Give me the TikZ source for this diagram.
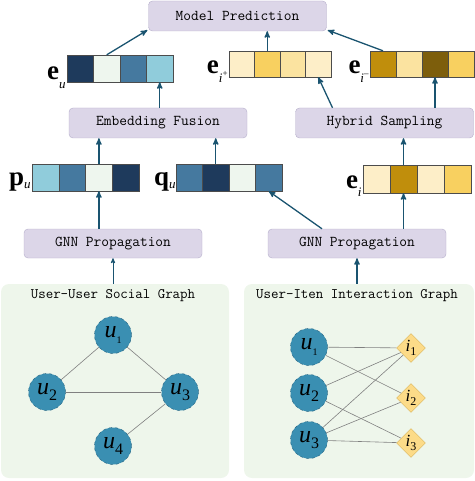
\documentclass[tikz,border=0pt]{standalone}
\usepackage{fontspec}
\setmainfont{Liberation Serif}
\usepackage{tikz}
\usetikzlibrary{arrows,shapes,positioning}

\definecolor{navy}{HTML}{1E3A5C}
\definecolor{paleg}{HTML}{EEF6EE}
\definecolor{steel}{HTML}{45799F}
\definecolor{cyanl}{HTML}{90CCDB}
\definecolor{pale}{HTML}{FDEEC8}
\definecolor{gold}{HTML}{F8D060}
\definecolor{goldm}{HTML}{FBE3A0}
\definecolor{goldd}{HTML}{C08E0C}
\definecolor{brown}{HTML}{7D5E0C}
\definecolor{flowc}{HTML}{1A5470}
\definecolor{boxfill}{HTML}{DCD6E8}
\definecolor{boxline}{HTML}{B5AECB}
\definecolor{panelfill}{HTML}{EEF6EB}
\definecolor{ufill}{HTML}{3A8FB2}
\definecolor{uline}{HTML}{1F5F7D}
\definecolor{ifill}{HTML}{FCDB88}
\definecolor{iline}{HTML}{D9B45A}

\begin{document}
\begin{tikzpicture}[x=1pt,y=-1pt,>=stealth']
  \tikzstyle{block}=[rectangle,rounded corners=4pt,draw=boxline,fill=boxfill,
                     minimum width=178pt,minimum height=30pt,
                     font=\fontsize{15}{17}\selectfont\ttfamily]
  \tikzstyle{cell}=[rectangle,draw=black!70,inner sep=0pt,
                    minimum width=26.5pt,minimum height=27pt]
  \tikzstyle{flow}=[->,draw=flowc,line width=1.3pt]
  \tikzstyle{panel}=[rectangle,rounded corners=8pt,fill=panelfill,draw=none]
  \tikzstyle{title}=[font=\fontsize{14.5}{16}\selectfont\ttfamily]
  \tikzstyle{user}=[circle,draw=uline,dashed,fill=ufill,minimum size=37pt,
                    inner sep=0pt,font=\fontsize{24}{26}\selectfont\itshape]
  \tikzstyle{item}=[diamond,draw=iline,fill=ifill,minimum size=29pt,
                    inner sep=0pt,font=\fontsize{17}{19}\selectfont\itshape]
  \tikzstyle{link}=[draw=black!50,line width=0.6pt]
  \tikzstyle{vlabel}=[inner sep=0pt,font=\fontsize{27}{29}\selectfont\bfseries]

  \useasboundingbox (0,0) rectangle (474,481);

  % boxes
  \node [block] (mp)   at (237.5,16)  {Model Prediction};
  \node [block] (ef)   at (158,123)   {Embedding Fusion};
  \node [block] (hs)   at (384.5,123) {Hybrid Sampling};
  \node [block,minimum height=29pt] (gnnl) at (113,243.5) {GNN Propagation};
  \node [block,minimum height=29pt] (gnnr) at (357,243.5) {GNN Propagation};

  % embedding vectors
  \foreach \c [count=\k] in {navy,paleg,steel,cyanl}
    \node [cell,fill=\c] (eu-\k) at ({80.25+(\k-1)*26.5},68.5) {};
  \foreach \c [count=\k] in {pale,gold,goldm,pale}
    \node [cell,fill=\c,minimum width=25.5pt,minimum height=26pt] (eip-\k) at ({241.75+(\k-1)*25.5},64) {};
  \foreach \c [count=\k] in {goldd,goldm,brown,gold}
    \node [cell,fill=\c,minimum width=26pt,minimum height=26pt] (eim-\k) at ({383+(\k-1)*26},64) {};
  \foreach \c [count=\k] in {cyanl,steel,paleg,navy}
    \node [cell,fill=\c,minimum width=26.75pt] (pu-\k) at ({45.4+(\k-1)*26.75},177.5) {};
  \foreach \c [count=\k] in {steel,navy,paleg,steel}
    \node [cell,fill=\c] (qu-\k) at ({189.25+(\k-1)*26.5},177.5) {};
  \foreach \c [count=\k] in {pale,goldd,pale,gold}
    \node [cell,fill=\c,minimum width=27pt,minimum height=28pt] (ei-\k) at ({376.5+(\k-1)*27},179) {};

  % vector labels
  \node [vlabel,anchor=base east] (eulab) at ([xshift=-1pt,yshift=3pt]eu-1.south west)
    {e\raisebox{-9pt}{\fontsize{13}{14}\selectfont\mdseries\itshape u}};
  \node [vlabel,anchor=base east] (eiplab) at ([xshift=-1pt,yshift=4pt]eip-1.south west)
    {e\raisebox{-9pt}{\fontsize{13}{14}\selectfont\mdseries\itshape i\raisebox{6pt}{\upshape\fontsize{9}{10}\selectfont+}}};
  \node [vlabel,anchor=base east] (eimlab) at ([xshift=-1pt,yshift=4pt]eim-1.south west)
    {e\raisebox{-9pt}{\fontsize{13}{14}\selectfont\mdseries\itshape i\raisebox{6pt}{\upshape\fontsize{9}{10}\selectfont--}}};
  \node [vlabel,anchor=base east] (pulab) at ([xshift=-1pt,yshift=6pt]pu-1.south west)
    {p\raisebox{-3pt}{\fontsize{13}{14}\selectfont\mdseries\itshape u}};
  \node [vlabel,anchor=base east] (qulab) at ([xshift=0pt,yshift=6pt]qu-1.south west)
    {q\raisebox{-3pt}{\fontsize{13}{14}\selectfont\mdseries\itshape u}};
  \node [vlabel,anchor=base east] (eilab) at ([xshift=-1pt,yshift=5pt]ei-1.south west)
    {e\raisebox{-8pt}{\fontsize{13}{14}\selectfont\mdseries\itshape i}};

  % graph panels
  \node [panel,minimum width=228pt,minimum height=194pt] (pl) at (115,381) {};
  \node [panel,minimum width=230pt,minimum height=194pt] (pr) at (359,381) {};
  \node [title] (tl) at (113,296) {User-User Social Graph};
  \node [title] (tr) at (357,296) {User-Iten Interaction Graph};

  % social graph
  \node [user] (su1) at (113,335) {u\raisebox{-6pt}{\fontsize{10}{11}\selectfont\upshape 1}};
  \node [user] (su2) at (47,392)  {u\raisebox{-6pt}{\fontsize{16}{17}\selectfont\upshape 2}};
  \node [user] (su3) at (180,392) {u\raisebox{-6pt}{\fontsize{16}{17}\selectfont\upshape 3}};
  \node [user] (su4) at (113,446) {u\raisebox{-6pt}{\fontsize{16}{17}\selectfont\upshape 4}};
  \draw [link] (su1) -- (su2);
  \draw [link] (su1) -- (su3);
  \draw [link] (su2) -- (su3);
  \draw [link] (su3) -- (su4);

  % interaction graph
  \node [user] (iu1) at (309,347) {u\raisebox{-6pt}{\fontsize{10}{11}\selectfont\upshape 1}};
  \node [user] (iu2) at (309,393) {u\raisebox{-6pt}{\fontsize{16}{17}\selectfont\upshape 2}};
  \node [user] (iu3) at (309,440) {u\raisebox{-6pt}{\fontsize{16}{17}\selectfont\upshape 3}};
  \node [item] (it1) at (411,348) {i\raisebox{-4pt}{\fontsize{12}{13}\selectfont\upshape 1}};
  \node [item] (it2) at (411,398) {i\raisebox{-4pt}{\fontsize{12}{13}\selectfont\upshape 2}};
  \node [item] (it3) at (411,443) {i\raisebox{-4pt}{\fontsize{12}{13}\selectfont\upshape 3}};
  \draw [link] (iu1) -- (it1);
  \draw [link] (iu1) -- (it2);
  \draw [link] (iu2) -- (it1);
  \draw [link] (iu2) -- (it3);
  \draw [link] (iu3) -- (it1);
  \draw [link] (iu3) -- (it2);
  \draw [link] (iu3) -- (it3);

  % flow arrows
  \draw [flow,line width=0.8pt] (pl.north -| gnnl.south) -- (gnnl.south);
  \draw [flow] (pr.north -| gnnr.south) -- (gnnr.south);
  \draw [flow] (gnnl.north -| pu-3.south) -- (pu-3.south);
  \draw [flow] ([xshift=-35pt]gnnr.north) -- (qu-4.south);
  \draw [flow] (gnnr.north -| ei-2.south) -- (ei-2.south);
  \draw [flow] (pu-3.north) -- (pu-3.north |- ef.south);
  \draw [flow] (qu-2.north) -- (qu-2.north |- ef.south);
  \draw [flow] (ei-2.north) -- (ei-2.north |- hs.south);
  \draw [flow] (ef.north -| eu-4.south) -- (eu-4.south);
  \draw [flow] ([xshift=-52pt]hs.north) -- (eip-4.south);
  \draw [flow] (hs.north -| eim-3.south) -- (eim-3.south);
  \draw [flow] (eu-2.north) -- ([xshift=-1pt,yshift=1pt]mp.south west);
  \draw [flow] (eip-2.north) -- (eip-2.north |- mp.south);
  \draw [flow] (eim-1.north) -- ([xshift=1pt,yshift=1pt]mp.south east);
\end{tikzpicture}
\end{document}
